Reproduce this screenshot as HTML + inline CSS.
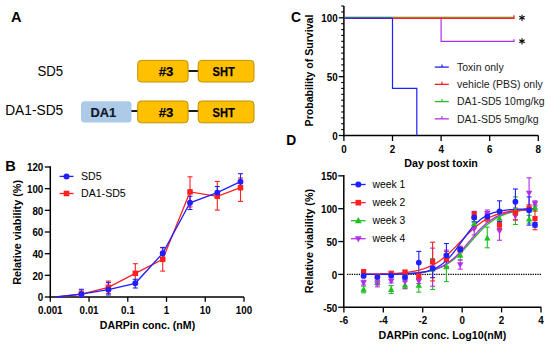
<!DOCTYPE html>
<html><head><meta charset="utf-8"><style>
html,body{margin:0;padding:0;background:#fff;}
body{width:550px;height:345px;position:relative;overflow:hidden;font-family:"Liberation Sans", sans-serif;}
</style></head><body>
<svg width="550" height="345" viewBox="0 0 550 345" style="position:absolute;left:0;top:0">
<g font-family='"Liberation Sans", sans-serif'>
<text x="11.00" y="21.80" font-size="14.6" font-weight="bold" text-anchor="start" fill="#000" >A</text>
<text x="63.20" y="76.30" font-size="14.3" font-weight="normal" text-anchor="end" fill="#000" textLength="25.6" lengthAdjust="spacingAndGlyphs">SD5</text>
<text x="63.20" y="115.20" font-size="14.3" font-weight="normal" text-anchor="end" fill="#000" textLength="58" lengthAdjust="spacingAndGlyphs">DA1-SD5</text>
<line x1="187.00" y1="71.00" x2="199.00" y2="71.00" stroke="#000" stroke-width="1.8" />
<rect x="137.7" y="60.4" width="50.4" height="21.6" rx="3.5" ry="3.5" fill="#ffc000" stroke="#c09000" stroke-width="1"/>
<rect x="198.2" y="60.4" width="55.8" height="21.6" rx="3.5" ry="3.5" fill="#ffc000" stroke="#c09000" stroke-width="1"/>
<text x="166.00" y="76.10" font-size="13.6" font-weight="bold" text-anchor="middle" fill="#000" textLength="14.6" lengthAdjust="spacingAndGlyphs" stroke="#000" stroke-width="0.25">#3</text>
<text x="223.70" y="76.10" font-size="13.0" font-weight="bold" text-anchor="middle" fill="#000" textLength="22.2" lengthAdjust="spacingAndGlyphs" stroke="#000" stroke-width="0.25">SHT</text>
<line x1="130.00" y1="111.00" x2="139.00" y2="111.00" stroke="#000" stroke-width="1.8" />
<line x1="187.00" y1="111.00" x2="199.00" y2="111.00" stroke="#000" stroke-width="1.8" />
<rect x="81.0" y="101.2" width="50.5" height="21.2" rx="3.5" ry="3.5" fill="#adcbe8"/>
<rect x="137.7" y="101.0" width="50.4" height="21.8" rx="3.5" ry="3.5" fill="#ffc000" stroke="#c09000" stroke-width="1"/>
<rect x="198.2" y="101.0" width="55.8" height="21.8" rx="3.5" ry="3.5" fill="#ffc000" stroke="#c09000" stroke-width="1"/>
<text x="103.30" y="116.80" font-size="12.8" font-weight="bold" text-anchor="middle" fill="#111827" stroke="#111827" stroke-width="0.2">DA1</text>
<text x="166.00" y="116.70" font-size="13.6" font-weight="bold" text-anchor="middle" fill="#000" textLength="14.6" lengthAdjust="spacingAndGlyphs" stroke="#000" stroke-width="0.25">#3</text>
<text x="223.70" y="116.70" font-size="13.0" font-weight="bold" text-anchor="middle" fill="#000" textLength="22.2" lengthAdjust="spacingAndGlyphs" stroke="#000" stroke-width="0.25">SHT</text>
<text x="5.30" y="170.60" font-size="14.6" font-weight="bold" text-anchor="start" fill="#000" >B</text>
<line x1="50.30" y1="166.20" x2="50.30" y2="297.75" stroke="#000" stroke-width="1.5" />
<line x1="49.55" y1="297.00" x2="244.00" y2="297.00" stroke="#000" stroke-width="1.5" />
<line x1="44.80" y1="297.00" x2="50.30" y2="297.00" stroke="#000" stroke-width="1.3" />
<text transform="translate(43.30,301.40) scale(0.98,1)" font-size="10.0" font-weight="bold" text-anchor="end" fill="#000">0</text>
<line x1="44.80" y1="275.33" x2="50.30" y2="275.33" stroke="#000" stroke-width="1.3" />
<text transform="translate(43.30,279.73) scale(0.98,1)" font-size="10.0" font-weight="bold" text-anchor="end" fill="#000">20</text>
<line x1="44.80" y1="253.67" x2="50.30" y2="253.67" stroke="#000" stroke-width="1.3" />
<text transform="translate(43.30,258.07) scale(0.98,1)" font-size="10.0" font-weight="bold" text-anchor="end" fill="#000">40</text>
<line x1="44.80" y1="232.00" x2="50.30" y2="232.00" stroke="#000" stroke-width="1.3" />
<text transform="translate(43.30,236.40) scale(0.98,1)" font-size="10.0" font-weight="bold" text-anchor="end" fill="#000">60</text>
<line x1="44.80" y1="210.34" x2="50.30" y2="210.34" stroke="#000" stroke-width="1.3" />
<text transform="translate(43.30,214.74) scale(0.98,1)" font-size="10.0" font-weight="bold" text-anchor="end" fill="#000">80</text>
<line x1="44.80" y1="188.67" x2="50.30" y2="188.67" stroke="#000" stroke-width="1.3" />
<text transform="translate(43.30,193.07) scale(0.98,1)" font-size="10.0" font-weight="bold" text-anchor="end" fill="#000">100</text>
<line x1="44.80" y1="167.00" x2="50.30" y2="167.00" stroke="#000" stroke-width="1.3" />
<text transform="translate(43.30,171.40) scale(0.98,1)" font-size="10.0" font-weight="bold" text-anchor="end" fill="#000">120</text>
<line x1="50.30" y1="297.00" x2="50.30" y2="301.80" stroke="#000" stroke-width="1.3" />
<text transform="translate(50.30,313.70) scale(0.98,1)" font-size="10.0" font-weight="bold" text-anchor="middle" fill="#000">0.001</text>
<line x1="89.04" y1="297.00" x2="89.04" y2="301.80" stroke="#000" stroke-width="1.3" />
<text transform="translate(89.04,313.70) scale(0.98,1)" font-size="10.0" font-weight="bold" text-anchor="middle" fill="#000">0.01</text>
<line x1="127.78" y1="297.00" x2="127.78" y2="301.80" stroke="#000" stroke-width="1.3" />
<text transform="translate(127.78,313.70) scale(0.98,1)" font-size="10.0" font-weight="bold" text-anchor="middle" fill="#000">0.1</text>
<line x1="166.52" y1="297.00" x2="166.52" y2="301.80" stroke="#000" stroke-width="1.3" />
<text transform="translate(166.52,313.70) scale(0.98,1)" font-size="10.0" font-weight="bold" text-anchor="middle" fill="#000">1</text>
<line x1="205.26" y1="297.00" x2="205.26" y2="301.80" stroke="#000" stroke-width="1.3" />
<text transform="translate(205.26,313.70) scale(0.98,1)" font-size="10.0" font-weight="bold" text-anchor="middle" fill="#000">10</text>
<line x1="244.00" y1="297.00" x2="244.00" y2="301.80" stroke="#000" stroke-width="1.3" />
<text transform="translate(244.00,313.70) scale(0.98,1)" font-size="10.0" font-weight="bold" text-anchor="middle" fill="#000">100</text>
<text x="147.50" y="329.10" font-size="10.6" font-weight="bold" text-anchor="middle" fill="#000" >DARPin conc. (nM)</text>
<text transform="translate(20.6,232.4) rotate(-90)" font-size="10.85" font-weight="bold" text-anchor="middle">Relative viability (%)</text>
<line x1="81.40" y1="291.00" x2="81.40" y2="297.00" stroke="#ff2020" stroke-width="1.1" />
<line x1="78.90" y1="291.00" x2="83.90" y2="291.00" stroke="#ff2020" stroke-width="1.1" />
<line x1="78.90" y1="297.00" x2="83.90" y2="297.00" stroke="#ff2020" stroke-width="1.1" />
<line x1="108.40" y1="281.10" x2="108.40" y2="293.50" stroke="#ff2020" stroke-width="1.1" />
<line x1="105.90" y1="281.10" x2="110.90" y2="281.10" stroke="#ff2020" stroke-width="1.1" />
<line x1="105.90" y1="293.50" x2="110.90" y2="293.50" stroke="#ff2020" stroke-width="1.1" />
<line x1="135.30" y1="263.70" x2="135.30" y2="283.00" stroke="#ff2020" stroke-width="1.1" />
<line x1="132.80" y1="263.70" x2="137.80" y2="263.70" stroke="#ff2020" stroke-width="1.1" />
<line x1="132.80" y1="283.00" x2="137.80" y2="283.00" stroke="#ff2020" stroke-width="1.1" />
<line x1="162.70" y1="247.80" x2="162.70" y2="271.10" stroke="#ff2020" stroke-width="1.1" />
<line x1="160.20" y1="247.80" x2="165.20" y2="247.80" stroke="#ff2020" stroke-width="1.1" />
<line x1="160.20" y1="271.10" x2="165.20" y2="271.10" stroke="#ff2020" stroke-width="1.1" />
<line x1="190.00" y1="176.80" x2="190.00" y2="207.00" stroke="#ff2020" stroke-width="1.1" />
<line x1="187.50" y1="176.80" x2="192.50" y2="176.80" stroke="#ff2020" stroke-width="1.1" />
<line x1="187.50" y1="207.00" x2="192.50" y2="207.00" stroke="#ff2020" stroke-width="1.1" />
<line x1="217.30" y1="181.40" x2="217.30" y2="210.10" stroke="#ff2020" stroke-width="1.1" />
<line x1="214.80" y1="181.40" x2="219.80" y2="181.40" stroke="#ff2020" stroke-width="1.1" />
<line x1="214.80" y1="210.10" x2="219.80" y2="210.10" stroke="#ff2020" stroke-width="1.1" />
<line x1="240.50" y1="178.00" x2="240.50" y2="201.40" stroke="#ff2020" stroke-width="1.1" />
<line x1="238.00" y1="178.00" x2="243.00" y2="178.00" stroke="#ff2020" stroke-width="1.1" />
<line x1="238.00" y1="201.40" x2="243.00" y2="201.40" stroke="#ff2020" stroke-width="1.1" />
<line x1="81.40" y1="289.30" x2="81.40" y2="297.50" stroke="#1f1fff" stroke-width="1.1" />
<line x1="78.90" y1="289.30" x2="83.90" y2="289.30" stroke="#1f1fff" stroke-width="1.1" />
<line x1="78.90" y1="297.50" x2="83.90" y2="297.50" stroke="#1f1fff" stroke-width="1.1" />
<line x1="108.40" y1="282.60" x2="108.40" y2="295.00" stroke="#1f1fff" stroke-width="1.1" />
<line x1="105.90" y1="282.60" x2="110.90" y2="282.60" stroke="#1f1fff" stroke-width="1.1" />
<line x1="105.90" y1="295.00" x2="110.90" y2="295.00" stroke="#1f1fff" stroke-width="1.1" />
<line x1="135.30" y1="279.30" x2="135.30" y2="288.00" stroke="#1f1fff" stroke-width="1.1" />
<line x1="132.80" y1="279.30" x2="137.80" y2="279.30" stroke="#1f1fff" stroke-width="1.1" />
<line x1="132.80" y1="288.00" x2="137.80" y2="288.00" stroke="#1f1fff" stroke-width="1.1" />
<line x1="162.70" y1="247.40" x2="162.70" y2="258.70" stroke="#1f1fff" stroke-width="1.1" />
<line x1="160.20" y1="247.40" x2="165.20" y2="247.40" stroke="#1f1fff" stroke-width="1.1" />
<line x1="160.20" y1="258.70" x2="165.20" y2="258.70" stroke="#1f1fff" stroke-width="1.1" />
<line x1="190.00" y1="196.30" x2="190.00" y2="209.50" stroke="#1f1fff" stroke-width="1.1" />
<line x1="187.50" y1="196.30" x2="192.50" y2="196.30" stroke="#1f1fff" stroke-width="1.1" />
<line x1="187.50" y1="209.50" x2="192.50" y2="209.50" stroke="#1f1fff" stroke-width="1.1" />
<line x1="217.30" y1="186.50" x2="217.30" y2="197.70" stroke="#1f1fff" stroke-width="1.1" />
<line x1="214.80" y1="186.50" x2="219.80" y2="186.50" stroke="#1f1fff" stroke-width="1.1" />
<line x1="214.80" y1="197.70" x2="219.80" y2="197.70" stroke="#1f1fff" stroke-width="1.1" />
<line x1="240.50" y1="173.70" x2="240.50" y2="188.60" stroke="#1f1fff" stroke-width="1.1" />
<line x1="238.00" y1="173.70" x2="243.00" y2="173.70" stroke="#1f1fff" stroke-width="1.1" />
<line x1="238.00" y1="188.60" x2="243.00" y2="188.60" stroke="#1f1fff" stroke-width="1.1" />
<polyline points="56.00,297.00 81.40,294.10 108.40,287.30 135.30,273.30 162.70,259.30 190.00,191.90 217.30,196.30 240.50,187.70" fill="none" stroke="#ff2020" stroke-width="1.3"/>
<polyline points="56.00,297.00 81.40,294.10 108.40,289.70 135.30,283.30 162.70,253.30 190.00,202.80 217.30,192.60 240.50,181.70" fill="none" stroke="#1f1fff" stroke-width="1.3"/>
<rect x="78.65" y="291.35" width="5.5" height="5.5" fill="#ff2020"/>
<rect x="105.65" y="284.55" width="5.5" height="5.5" fill="#ff2020"/>
<rect x="132.55" y="270.55" width="5.5" height="5.5" fill="#ff2020"/>
<rect x="159.95" y="256.55" width="5.5" height="5.5" fill="#ff2020"/>
<rect x="187.25" y="189.15" width="5.5" height="5.5" fill="#ff2020"/>
<rect x="214.55" y="193.55" width="5.5" height="5.5" fill="#ff2020"/>
<rect x="237.75" y="184.95" width="5.5" height="5.5" fill="#ff2020"/>
<circle cx="81.40" cy="294.10" r="2.95" fill="#1f1fff"/>
<circle cx="108.40" cy="289.70" r="2.95" fill="#1f1fff"/>
<circle cx="135.30" cy="283.30" r="2.95" fill="#1f1fff"/>
<circle cx="162.70" cy="253.30" r="2.95" fill="#1f1fff"/>
<circle cx="190.00" cy="202.80" r="2.95" fill="#1f1fff"/>
<circle cx="217.30" cy="192.60" r="2.95" fill="#1f1fff"/>
<circle cx="240.50" cy="181.70" r="2.95" fill="#1f1fff"/>
<line x1="59.60" y1="176.40" x2="73.50" y2="176.40" stroke="#1f1fff" stroke-width="1.3" />
<circle cx="66.50" cy="176.40" r="3.0" fill="#1f1fff"/>
<text x="81.00" y="180.20" font-size="10.6" font-weight="normal" text-anchor="start" fill="#000" >SD5</text>
<line x1="59.60" y1="193.50" x2="73.50" y2="193.50" stroke="#ff2020" stroke-width="1.3" />
<rect x="63.70" y="190.70" width="5.6" height="5.6" fill="#ff2020"/>
<text x="81.00" y="197.30" font-size="10.6" font-weight="normal" text-anchor="start" fill="#000" >DA1-SD5</text>
<text x="291.00" y="21.80" font-size="13.8" font-weight="bold" text-anchor="start" fill="#000" >C</text>
<line x1="343.90" y1="6.00" x2="343.90" y2="136.25" stroke="#000" stroke-width="1.5" />
<line x1="343.15" y1="135.50" x2="538.40" y2="135.50" stroke="#000" stroke-width="1.5" />
<line x1="338.80" y1="135.50" x2="343.90" y2="135.50" stroke="#000" stroke-width="1.3" />
<text transform="translate(337.60,139.90) scale(0.98,1)" font-size="10.0" font-weight="bold" text-anchor="end" fill="#000">0</text>
<line x1="341.20" y1="129.62" x2="343.90" y2="129.62" stroke="#000" stroke-width="1.1" />
<line x1="341.20" y1="123.73" x2="343.90" y2="123.73" stroke="#000" stroke-width="1.1" />
<line x1="341.20" y1="117.84" x2="343.90" y2="117.84" stroke="#000" stroke-width="1.1" />
<line x1="341.20" y1="111.96" x2="343.90" y2="111.96" stroke="#000" stroke-width="1.1" />
<line x1="341.20" y1="106.08" x2="343.90" y2="106.08" stroke="#000" stroke-width="1.1" />
<line x1="341.20" y1="100.19" x2="343.90" y2="100.19" stroke="#000" stroke-width="1.1" />
<line x1="341.20" y1="94.31" x2="343.90" y2="94.31" stroke="#000" stroke-width="1.1" />
<line x1="341.20" y1="88.42" x2="343.90" y2="88.42" stroke="#000" stroke-width="1.1" />
<line x1="341.20" y1="82.53" x2="343.90" y2="82.53" stroke="#000" stroke-width="1.1" />
<line x1="338.80" y1="76.65" x2="343.90" y2="76.65" stroke="#000" stroke-width="1.3" />
<text transform="translate(337.60,81.05) scale(0.98,1)" font-size="10.0" font-weight="bold" text-anchor="end" fill="#000">50</text>
<line x1="341.20" y1="70.77" x2="343.90" y2="70.77" stroke="#000" stroke-width="1.1" />
<line x1="341.20" y1="64.88" x2="343.90" y2="64.88" stroke="#000" stroke-width="1.1" />
<line x1="341.20" y1="58.99" x2="343.90" y2="58.99" stroke="#000" stroke-width="1.1" />
<line x1="341.20" y1="53.11" x2="343.90" y2="53.11" stroke="#000" stroke-width="1.1" />
<line x1="341.20" y1="47.22" x2="343.90" y2="47.22" stroke="#000" stroke-width="1.1" />
<line x1="341.20" y1="41.34" x2="343.90" y2="41.34" stroke="#000" stroke-width="1.1" />
<line x1="341.20" y1="35.45" x2="343.90" y2="35.45" stroke="#000" stroke-width="1.1" />
<line x1="341.20" y1="29.57" x2="343.90" y2="29.57" stroke="#000" stroke-width="1.1" />
<line x1="341.20" y1="23.69" x2="343.90" y2="23.69" stroke="#000" stroke-width="1.1" />
<line x1="338.80" y1="17.80" x2="343.90" y2="17.80" stroke="#000" stroke-width="1.3" />
<text transform="translate(337.60,22.20) scale(0.98,1)" font-size="10.0" font-weight="bold" text-anchor="end" fill="#000">100</text>
<line x1="341.20" y1="11.91" x2="343.90" y2="11.91" stroke="#000" stroke-width="1.1" />
<line x1="341.20" y1="6.03" x2="343.90" y2="6.03" stroke="#000" stroke-width="1.1" />
<line x1="343.90" y1="135.50" x2="343.90" y2="141.00" stroke="#000" stroke-width="1.3" />
<text transform="translate(343.90,153.20) scale(0.98,1)" font-size="10.0" font-weight="bold" text-anchor="middle" fill="#000">0</text>
<line x1="392.50" y1="135.50" x2="392.50" y2="141.00" stroke="#000" stroke-width="1.3" />
<text transform="translate(392.50,153.20) scale(0.98,1)" font-size="10.0" font-weight="bold" text-anchor="middle" fill="#000">2</text>
<line x1="441.10" y1="135.50" x2="441.10" y2="141.00" stroke="#000" stroke-width="1.3" />
<text transform="translate(441.10,153.20) scale(0.98,1)" font-size="10.0" font-weight="bold" text-anchor="middle" fill="#000">4</text>
<line x1="489.70" y1="135.50" x2="489.70" y2="141.00" stroke="#000" stroke-width="1.3" />
<text transform="translate(489.70,153.20) scale(0.98,1)" font-size="10.0" font-weight="bold" text-anchor="middle" fill="#000">6</text>
<line x1="538.30" y1="135.50" x2="538.30" y2="141.00" stroke="#000" stroke-width="1.3" />
<text transform="translate(538.30,153.20) scale(0.98,1)" font-size="10.0" font-weight="bold" text-anchor="middle" fill="#000">8</text>
<text x="441.10" y="167.40" font-size="10.7" font-weight="bold" text-anchor="middle" fill="#000" >Day post toxin</text>
<text transform="translate(312.7,70.5) rotate(-90)" font-size="10.6" font-weight="bold" text-anchor="middle">Probability of Survival</text>
<polyline points="441.10,17.80 441.10,41.34 514.00,41.34 514.00,39.14" fill="none" stroke="#b030e8" stroke-width="1.2"/>
<polyline points="343.90,18.25 514.00,18.25 514.00,15.20" fill="none" stroke="#ff2020" stroke-width="1.3"/>
<polyline points="343.90,18.25 392.50,18.25 392.50,88.42 416.80,88.42 416.80,135.50" fill="none" stroke="#1f1fff" stroke-width="1.2"/>
<polyline points="343.90,17.25 392.50,17.25" fill="none" stroke="#0a7070" stroke-width="1.1"/>
<polyline points="392.50,17.25 514.00,17.25" fill="none" stroke="#8a7010" stroke-width="1.1"/>
<line x1="522.00" y1="14.70" x2="522.00" y2="20.90" stroke="#000" stroke-width="1.1" />
<line x1="519.32" y1="16.25" x2="524.68" y2="19.35" stroke="#000" stroke-width="1.1" />
<line x1="519.32" y1="19.35" x2="524.68" y2="16.25" stroke="#000" stroke-width="1.1" />
<line x1="522.00" y1="38.20" x2="522.00" y2="44.40" stroke="#000" stroke-width="1.1" />
<line x1="519.32" y1="39.75" x2="524.68" y2="42.85" stroke="#000" stroke-width="1.1" />
<line x1="519.32" y1="42.85" x2="524.68" y2="39.75" stroke="#000" stroke-width="1.1" />
<line x1="434.80" y1="67.10" x2="448.80" y2="67.10" stroke="#1f1fff" stroke-width="1.3" />
<line x1="442.00" y1="67.10" x2="442.00" y2="64.60" stroke="#1f1fff" stroke-width="1.2" />
<text x="457.00" y="70.90" font-size="10.5" font-weight="normal" text-anchor="start" fill="#1a1a1a" >Toxin only</text>
<line x1="434.80" y1="84.35" x2="448.80" y2="84.35" stroke="#ff2020" stroke-width="1.3" />
<line x1="442.00" y1="84.35" x2="442.00" y2="81.85" stroke="#ff2020" stroke-width="1.2" />
<text x="457.00" y="88.15" font-size="10.5" font-weight="normal" text-anchor="start" fill="#1a1a1a" >vehicle (PBS) only</text>
<line x1="434.80" y1="101.60" x2="448.80" y2="101.60" stroke="#20c020" stroke-width="1.3" />
<line x1="442.00" y1="101.60" x2="442.00" y2="99.10" stroke="#20c020" stroke-width="1.2" />
<text x="457.00" y="105.40" font-size="10.5" font-weight="normal" text-anchor="start" fill="#1a1a1a" >DA1-SD5 10mg/kg</text>
<line x1="434.80" y1="118.85" x2="448.80" y2="118.85" stroke="#b030e8" stroke-width="1.3" />
<line x1="442.00" y1="118.85" x2="442.00" y2="116.35" stroke="#b030e8" stroke-width="1.2" />
<text x="457.00" y="122.65" font-size="10.5" font-weight="normal" text-anchor="start" fill="#1a1a1a" >DA1-SD5 5mg/kg</text>
<text x="286.20" y="145.30" font-size="13.8" font-weight="bold" text-anchor="start" fill="#000" >D</text>
<line x1="343.80" y1="175.00" x2="343.80" y2="307.95" stroke="#000" stroke-width="1.5" />
<line x1="343.05" y1="307.20" x2="541.30" y2="307.20" stroke="#000" stroke-width="1.5" />
<line x1="338.20" y1="307.25" x2="343.80" y2="307.25" stroke="#000" stroke-width="1.3" />
<text transform="translate(337.30,311.65) scale(0.98,1)" font-size="10.0" font-weight="bold" text-anchor="end" fill="#000">-50</text>
<line x1="338.20" y1="274.40" x2="343.80" y2="274.40" stroke="#000" stroke-width="1.3" />
<text transform="translate(337.30,278.80) scale(0.98,1)" font-size="10.0" font-weight="bold" text-anchor="end" fill="#000">0</text>
<line x1="338.20" y1="241.55" x2="343.80" y2="241.55" stroke="#000" stroke-width="1.3" />
<text transform="translate(337.30,245.95) scale(0.98,1)" font-size="10.0" font-weight="bold" text-anchor="end" fill="#000">50</text>
<line x1="338.20" y1="208.70" x2="343.80" y2="208.70" stroke="#000" stroke-width="1.3" />
<text transform="translate(337.30,213.10) scale(0.98,1)" font-size="10.0" font-weight="bold" text-anchor="end" fill="#000">100</text>
<line x1="338.20" y1="175.85" x2="343.80" y2="175.85" stroke="#000" stroke-width="1.3" />
<text transform="translate(337.30,180.25) scale(0.98,1)" font-size="10.0" font-weight="bold" text-anchor="end" fill="#000">150</text>
<line x1="343.90" y1="307.20" x2="343.90" y2="312.40" stroke="#000" stroke-width="1.3" />
<text transform="translate(343.90,324.40) scale(0.98,1)" font-size="10.0" font-weight="bold" text-anchor="middle" fill="#000">-6</text>
<line x1="383.32" y1="307.20" x2="383.32" y2="312.40" stroke="#000" stroke-width="1.3" />
<text transform="translate(383.32,324.40) scale(0.98,1)" font-size="10.0" font-weight="bold" text-anchor="middle" fill="#000">-4</text>
<line x1="422.74" y1="307.20" x2="422.74" y2="312.40" stroke="#000" stroke-width="1.3" />
<text transform="translate(422.74,324.40) scale(0.98,1)" font-size="10.0" font-weight="bold" text-anchor="middle" fill="#000">-2</text>
<line x1="462.16" y1="307.20" x2="462.16" y2="312.40" stroke="#000" stroke-width="1.3" />
<text transform="translate(462.16,324.40) scale(0.98,1)" font-size="10.0" font-weight="bold" text-anchor="middle" fill="#000">0</text>
<line x1="501.58" y1="307.20" x2="501.58" y2="312.40" stroke="#000" stroke-width="1.3" />
<text transform="translate(501.58,324.40) scale(0.98,1)" font-size="10.0" font-weight="bold" text-anchor="middle" fill="#000">2</text>
<line x1="541.00" y1="307.20" x2="541.00" y2="312.40" stroke="#000" stroke-width="1.3" />
<text transform="translate(541.00,324.40) scale(0.98,1)" font-size="10.0" font-weight="bold" text-anchor="middle" fill="#000">4</text>
<text x="442.40" y="338.80" font-size="10.7" font-weight="bold" text-anchor="middle" fill="#000" >DARPin conc. Log10(nM)</text>
<text transform="translate(312.5,241.1) rotate(-90)" font-size="10.8" font-weight="bold" text-anchor="middle">Relative viability (%)</text>
<line x1="347.00" y1="274.40" x2="541.00" y2="274.40" stroke="#000" stroke-width="1.3" stroke-dasharray="1.3 1.05"/>
<line x1="363.60" y1="286.23" x2="363.60" y2="292.80" stroke="#20c020" stroke-width="1.1" />
<line x1="361.10" y1="286.23" x2="366.10" y2="286.23" stroke="#20c020" stroke-width="1.1" />
<line x1="361.10" y1="292.80" x2="366.10" y2="292.80" stroke="#20c020" stroke-width="1.1" />
<line x1="377.40" y1="280.31" x2="377.40" y2="284.91" stroke="#20c020" stroke-width="1.1" />
<line x1="374.90" y1="280.31" x2="379.90" y2="280.31" stroke="#20c020" stroke-width="1.1" />
<line x1="374.90" y1="284.91" x2="379.90" y2="284.91" stroke="#20c020" stroke-width="1.1" />
<line x1="391.20" y1="285.57" x2="391.20" y2="293.45" stroke="#20c020" stroke-width="1.1" />
<line x1="388.70" y1="285.57" x2="393.70" y2="285.57" stroke="#20c020" stroke-width="1.1" />
<line x1="388.70" y1="293.45" x2="393.70" y2="293.45" stroke="#20c020" stroke-width="1.1" />
<line x1="405.00" y1="281.63" x2="405.00" y2="288.85" stroke="#20c020" stroke-width="1.1" />
<line x1="402.50" y1="281.63" x2="407.50" y2="281.63" stroke="#20c020" stroke-width="1.1" />
<line x1="402.50" y1="288.85" x2="407.50" y2="288.85" stroke="#20c020" stroke-width="1.1" />
<line x1="418.80" y1="279.66" x2="418.80" y2="292.14" stroke="#20c020" stroke-width="1.1" />
<line x1="416.30" y1="279.66" x2="421.30" y2="279.66" stroke="#20c020" stroke-width="1.1" />
<line x1="416.30" y1="292.14" x2="421.30" y2="292.14" stroke="#20c020" stroke-width="1.1" />
<line x1="432.60" y1="258.63" x2="432.60" y2="289.51" stroke="#20c020" stroke-width="1.1" />
<line x1="430.10" y1="258.63" x2="435.10" y2="258.63" stroke="#20c020" stroke-width="1.1" />
<line x1="430.10" y1="289.51" x2="435.10" y2="289.51" stroke="#20c020" stroke-width="1.1" />
<line x1="446.40" y1="261.26" x2="446.40" y2="281.63" stroke="#20c020" stroke-width="1.1" />
<line x1="443.90" y1="261.26" x2="448.90" y2="261.26" stroke="#20c020" stroke-width="1.1" />
<line x1="443.90" y1="281.63" x2="448.90" y2="281.63" stroke="#20c020" stroke-width="1.1" />
<line x1="460.20" y1="250.75" x2="460.20" y2="259.95" stroke="#20c020" stroke-width="1.1" />
<line x1="457.70" y1="250.75" x2="462.70" y2="250.75" stroke="#20c020" stroke-width="1.1" />
<line x1="457.70" y1="259.95" x2="462.70" y2="259.95" stroke="#20c020" stroke-width="1.1" />
<line x1="474.20" y1="219.21" x2="474.20" y2="227.10" stroke="#20c020" stroke-width="1.1" />
<line x1="471.70" y1="219.21" x2="476.70" y2="219.21" stroke="#20c020" stroke-width="1.1" />
<line x1="471.70" y1="227.10" x2="476.70" y2="227.10" stroke="#20c020" stroke-width="1.1" />
<line x1="487.30" y1="227.10" x2="487.30" y2="247.79" stroke="#20c020" stroke-width="1.1" />
<line x1="484.80" y1="227.10" x2="489.80" y2="227.10" stroke="#20c020" stroke-width="1.1" />
<line x1="484.80" y1="247.79" x2="489.80" y2="247.79" stroke="#20c020" stroke-width="1.1" />
<line x1="499.50" y1="213.96" x2="499.50" y2="223.15" stroke="#20c020" stroke-width="1.1" />
<line x1="497.00" y1="213.96" x2="502.00" y2="213.96" stroke="#20c020" stroke-width="1.1" />
<line x1="497.00" y1="223.15" x2="502.00" y2="223.15" stroke="#20c020" stroke-width="1.1" />
<line x1="515.40" y1="196.87" x2="515.40" y2="224.47" stroke="#20c020" stroke-width="1.1" />
<line x1="512.90" y1="196.87" x2="517.90" y2="196.87" stroke="#20c020" stroke-width="1.1" />
<line x1="512.90" y1="224.47" x2="517.90" y2="224.47" stroke="#20c020" stroke-width="1.1" />
<line x1="529.10" y1="215.27" x2="529.10" y2="223.15" stroke="#20c020" stroke-width="1.1" />
<line x1="526.60" y1="215.27" x2="531.60" y2="215.27" stroke="#20c020" stroke-width="1.1" />
<line x1="526.60" y1="223.15" x2="531.60" y2="223.15" stroke="#20c020" stroke-width="1.1" />
<line x1="535.00" y1="204.76" x2="535.00" y2="211.33" stroke="#20c020" stroke-width="1.1" />
<line x1="532.50" y1="204.76" x2="537.50" y2="204.76" stroke="#20c020" stroke-width="1.1" />
<line x1="532.50" y1="211.33" x2="537.50" y2="211.33" stroke="#20c020" stroke-width="1.1" />
<line x1="363.60" y1="280.31" x2="363.60" y2="284.91" stroke="#b030e8" stroke-width="1.1" />
<line x1="361.10" y1="280.31" x2="366.10" y2="280.31" stroke="#b030e8" stroke-width="1.1" />
<line x1="361.10" y1="284.91" x2="366.10" y2="284.91" stroke="#b030e8" stroke-width="1.1" />
<line x1="377.40" y1="280.31" x2="377.40" y2="286.88" stroke="#b030e8" stroke-width="1.1" />
<line x1="374.90" y1="280.31" x2="379.90" y2="280.31" stroke="#b030e8" stroke-width="1.1" />
<line x1="374.90" y1="286.88" x2="379.90" y2="286.88" stroke="#b030e8" stroke-width="1.1" />
<line x1="391.20" y1="279.00" x2="391.20" y2="282.94" stroke="#b030e8" stroke-width="1.1" />
<line x1="388.70" y1="279.00" x2="393.70" y2="279.00" stroke="#b030e8" stroke-width="1.1" />
<line x1="388.70" y1="282.94" x2="393.70" y2="282.94" stroke="#b030e8" stroke-width="1.1" />
<line x1="405.00" y1="277.69" x2="405.00" y2="288.20" stroke="#b030e8" stroke-width="1.1" />
<line x1="402.50" y1="277.69" x2="407.50" y2="277.69" stroke="#b030e8" stroke-width="1.1" />
<line x1="402.50" y1="288.20" x2="407.50" y2="288.20" stroke="#b030e8" stroke-width="1.1" />
<line x1="418.80" y1="278.34" x2="418.80" y2="283.60" stroke="#b030e8" stroke-width="1.1" />
<line x1="416.30" y1="278.34" x2="421.30" y2="278.34" stroke="#b030e8" stroke-width="1.1" />
<line x1="416.30" y1="283.60" x2="421.30" y2="283.60" stroke="#b030e8" stroke-width="1.1" />
<line x1="432.60" y1="248.12" x2="432.60" y2="286.23" stroke="#b030e8" stroke-width="1.1" />
<line x1="430.10" y1="248.12" x2="435.10" y2="248.12" stroke="#b030e8" stroke-width="1.1" />
<line x1="430.10" y1="286.23" x2="435.10" y2="286.23" stroke="#b030e8" stroke-width="1.1" />
<line x1="446.40" y1="250.09" x2="446.40" y2="261.26" stroke="#b030e8" stroke-width="1.1" />
<line x1="443.90" y1="250.09" x2="448.90" y2="250.09" stroke="#b030e8" stroke-width="1.1" />
<line x1="443.90" y1="261.26" x2="448.90" y2="261.26" stroke="#b030e8" stroke-width="1.1" />
<line x1="460.20" y1="259.95" x2="460.20" y2="269.14" stroke="#b030e8" stroke-width="1.1" />
<line x1="457.70" y1="259.95" x2="462.70" y2="259.95" stroke="#b030e8" stroke-width="1.1" />
<line x1="457.70" y1="269.14" x2="462.70" y2="269.14" stroke="#b030e8" stroke-width="1.1" />
<line x1="474.20" y1="221.84" x2="474.20" y2="234.98" stroke="#b030e8" stroke-width="1.1" />
<line x1="471.70" y1="221.84" x2="476.70" y2="221.84" stroke="#b030e8" stroke-width="1.1" />
<line x1="471.70" y1="234.98" x2="476.70" y2="234.98" stroke="#b030e8" stroke-width="1.1" />
<line x1="487.30" y1="210.01" x2="487.30" y2="216.58" stroke="#b030e8" stroke-width="1.1" />
<line x1="484.80" y1="210.01" x2="489.80" y2="210.01" stroke="#b030e8" stroke-width="1.1" />
<line x1="484.80" y1="216.58" x2="489.80" y2="216.58" stroke="#b030e8" stroke-width="1.1" />
<line x1="499.50" y1="221.84" x2="499.50" y2="240.24" stroke="#b030e8" stroke-width="1.1" />
<line x1="497.00" y1="221.84" x2="502.00" y2="221.84" stroke="#b030e8" stroke-width="1.1" />
<line x1="497.00" y1="240.24" x2="502.00" y2="240.24" stroke="#b030e8" stroke-width="1.1" />
<line x1="515.40" y1="211.98" x2="515.40" y2="219.87" stroke="#b030e8" stroke-width="1.1" />
<line x1="512.90" y1="211.98" x2="517.90" y2="211.98" stroke="#b030e8" stroke-width="1.1" />
<line x1="512.90" y1="219.87" x2="517.90" y2="219.87" stroke="#b030e8" stroke-width="1.1" />
<line x1="529.10" y1="177.82" x2="529.10" y2="208.04" stroke="#b030e8" stroke-width="1.1" />
<line x1="526.60" y1="177.82" x2="531.60" y2="177.82" stroke="#b030e8" stroke-width="1.1" />
<line x1="526.60" y1="208.04" x2="531.60" y2="208.04" stroke="#b030e8" stroke-width="1.1" />
<line x1="535.00" y1="200.82" x2="535.00" y2="206.07" stroke="#b030e8" stroke-width="1.1" />
<line x1="532.50" y1="200.82" x2="537.50" y2="200.82" stroke="#b030e8" stroke-width="1.1" />
<line x1="532.50" y1="206.07" x2="537.50" y2="206.07" stroke="#b030e8" stroke-width="1.1" />
<line x1="363.60" y1="269.80" x2="363.60" y2="273.74" stroke="#ff2020" stroke-width="1.1" />
<line x1="361.10" y1="269.80" x2="366.10" y2="269.80" stroke="#ff2020" stroke-width="1.1" />
<line x1="361.10" y1="273.74" x2="366.10" y2="273.74" stroke="#ff2020" stroke-width="1.1" />
<line x1="377.40" y1="275.06" x2="377.40" y2="278.34" stroke="#ff2020" stroke-width="1.1" />
<line x1="374.90" y1="275.06" x2="379.90" y2="275.06" stroke="#ff2020" stroke-width="1.1" />
<line x1="374.90" y1="278.34" x2="379.90" y2="278.34" stroke="#ff2020" stroke-width="1.1" />
<line x1="391.20" y1="271.77" x2="391.20" y2="275.06" stroke="#ff2020" stroke-width="1.1" />
<line x1="388.70" y1="271.77" x2="393.70" y2="271.77" stroke="#ff2020" stroke-width="1.1" />
<line x1="388.70" y1="275.06" x2="393.70" y2="275.06" stroke="#ff2020" stroke-width="1.1" />
<line x1="405.00" y1="270.46" x2="405.00" y2="273.74" stroke="#ff2020" stroke-width="1.1" />
<line x1="402.50" y1="270.46" x2="407.50" y2="270.46" stroke="#ff2020" stroke-width="1.1" />
<line x1="402.50" y1="273.74" x2="407.50" y2="273.74" stroke="#ff2020" stroke-width="1.1" />
<line x1="418.80" y1="273.09" x2="418.80" y2="278.34" stroke="#ff2020" stroke-width="1.1" />
<line x1="416.30" y1="273.09" x2="421.30" y2="273.09" stroke="#ff2020" stroke-width="1.1" />
<line x1="416.30" y1="278.34" x2="421.30" y2="278.34" stroke="#ff2020" stroke-width="1.1" />
<line x1="432.60" y1="242.21" x2="432.60" y2="280.97" stroke="#ff2020" stroke-width="1.1" />
<line x1="430.10" y1="242.21" x2="435.10" y2="242.21" stroke="#ff2020" stroke-width="1.1" />
<line x1="430.10" y1="280.97" x2="435.10" y2="280.97" stroke="#ff2020" stroke-width="1.1" />
<line x1="446.40" y1="251.40" x2="446.40" y2="266.52" stroke="#ff2020" stroke-width="1.1" />
<line x1="443.90" y1="251.40" x2="448.90" y2="251.40" stroke="#ff2020" stroke-width="1.1" />
<line x1="443.90" y1="266.52" x2="448.90" y2="266.52" stroke="#ff2020" stroke-width="1.1" />
<line x1="460.20" y1="246.15" x2="460.20" y2="252.72" stroke="#ff2020" stroke-width="1.1" />
<line x1="457.70" y1="246.15" x2="462.70" y2="246.15" stroke="#ff2020" stroke-width="1.1" />
<line x1="457.70" y1="252.72" x2="462.70" y2="252.72" stroke="#ff2020" stroke-width="1.1" />
<line x1="474.20" y1="211.33" x2="474.20" y2="217.24" stroke="#ff2020" stroke-width="1.1" />
<line x1="471.70" y1="211.33" x2="476.70" y2="211.33" stroke="#ff2020" stroke-width="1.1" />
<line x1="471.70" y1="217.24" x2="476.70" y2="217.24" stroke="#ff2020" stroke-width="1.1" />
<line x1="487.30" y1="213.96" x2="487.30" y2="221.84" stroke="#ff2020" stroke-width="1.1" />
<line x1="484.80" y1="213.96" x2="489.80" y2="213.96" stroke="#ff2020" stroke-width="1.1" />
<line x1="484.80" y1="221.84" x2="489.80" y2="221.84" stroke="#ff2020" stroke-width="1.1" />
<line x1="499.50" y1="221.84" x2="499.50" y2="228.41" stroke="#ff2020" stroke-width="1.1" />
<line x1="497.00" y1="221.84" x2="502.00" y2="221.84" stroke="#ff2020" stroke-width="1.1" />
<line x1="497.00" y1="228.41" x2="502.00" y2="228.41" stroke="#ff2020" stroke-width="1.1" />
<line x1="515.40" y1="208.04" x2="515.40" y2="219.87" stroke="#ff2020" stroke-width="1.1" />
<line x1="512.90" y1="208.04" x2="517.90" y2="208.04" stroke="#ff2020" stroke-width="1.1" />
<line x1="512.90" y1="219.87" x2="517.90" y2="219.87" stroke="#ff2020" stroke-width="1.1" />
<line x1="529.10" y1="204.76" x2="529.10" y2="211.98" stroke="#ff2020" stroke-width="1.1" />
<line x1="526.60" y1="204.76" x2="531.60" y2="204.76" stroke="#ff2020" stroke-width="1.1" />
<line x1="526.60" y1="211.98" x2="531.60" y2="211.98" stroke="#ff2020" stroke-width="1.1" />
<line x1="535.00" y1="210.01" x2="535.00" y2="229.72" stroke="#ff2020" stroke-width="1.1" />
<line x1="532.50" y1="210.01" x2="537.50" y2="210.01" stroke="#ff2020" stroke-width="1.1" />
<line x1="532.50" y1="229.72" x2="537.50" y2="229.72" stroke="#ff2020" stroke-width="1.1" />
<line x1="363.60" y1="274.40" x2="363.60" y2="277.03" stroke="#1f1fff" stroke-width="1.1" />
<line x1="361.10" y1="274.40" x2="366.10" y2="274.40" stroke="#1f1fff" stroke-width="1.1" />
<line x1="361.10" y1="277.03" x2="366.10" y2="277.03" stroke="#1f1fff" stroke-width="1.1" />
<line x1="377.40" y1="275.71" x2="377.40" y2="278.34" stroke="#1f1fff" stroke-width="1.1" />
<line x1="374.90" y1="275.71" x2="379.90" y2="275.71" stroke="#1f1fff" stroke-width="1.1" />
<line x1="374.90" y1="278.34" x2="379.90" y2="278.34" stroke="#1f1fff" stroke-width="1.1" />
<line x1="391.20" y1="274.40" x2="391.20" y2="277.03" stroke="#1f1fff" stroke-width="1.1" />
<line x1="388.70" y1="274.40" x2="393.70" y2="274.40" stroke="#1f1fff" stroke-width="1.1" />
<line x1="388.70" y1="277.03" x2="393.70" y2="277.03" stroke="#1f1fff" stroke-width="1.1" />
<line x1="405.00" y1="275.71" x2="405.00" y2="278.34" stroke="#1f1fff" stroke-width="1.1" />
<line x1="402.50" y1="275.71" x2="407.50" y2="275.71" stroke="#1f1fff" stroke-width="1.1" />
<line x1="402.50" y1="278.34" x2="407.50" y2="278.34" stroke="#1f1fff" stroke-width="1.1" />
<line x1="418.80" y1="251.40" x2="418.80" y2="273.74" stroke="#1f1fff" stroke-width="1.1" />
<line x1="416.30" y1="251.40" x2="421.30" y2="251.40" stroke="#1f1fff" stroke-width="1.1" />
<line x1="416.30" y1="273.74" x2="421.30" y2="273.74" stroke="#1f1fff" stroke-width="1.1" />
<line x1="432.60" y1="259.95" x2="432.60" y2="277.69" stroke="#1f1fff" stroke-width="1.1" />
<line x1="430.10" y1="259.95" x2="435.10" y2="259.95" stroke="#1f1fff" stroke-width="1.1" />
<line x1="430.10" y1="277.69" x2="435.10" y2="277.69" stroke="#1f1fff" stroke-width="1.1" />
<line x1="446.40" y1="243.52" x2="446.40" y2="267.83" stroke="#1f1fff" stroke-width="1.1" />
<line x1="443.90" y1="243.52" x2="448.90" y2="243.52" stroke="#1f1fff" stroke-width="1.1" />
<line x1="443.90" y1="267.83" x2="448.90" y2="267.83" stroke="#1f1fff" stroke-width="1.1" />
<line x1="460.20" y1="247.46" x2="460.20" y2="251.40" stroke="#1f1fff" stroke-width="1.1" />
<line x1="457.70" y1="247.46" x2="462.70" y2="247.46" stroke="#1f1fff" stroke-width="1.1" />
<line x1="457.70" y1="251.40" x2="462.70" y2="251.40" stroke="#1f1fff" stroke-width="1.1" />
<line x1="474.20" y1="212.12" x2="474.20" y2="221.84" stroke="#1f1fff" stroke-width="1.1" />
<line x1="471.70" y1="212.12" x2="476.70" y2="212.12" stroke="#1f1fff" stroke-width="1.1" />
<line x1="471.70" y1="221.84" x2="476.70" y2="221.84" stroke="#1f1fff" stroke-width="1.1" />
<line x1="487.30" y1="213.96" x2="487.30" y2="219.21" stroke="#1f1fff" stroke-width="1.1" />
<line x1="484.80" y1="213.96" x2="489.80" y2="213.96" stroke="#1f1fff" stroke-width="1.1" />
<line x1="484.80" y1="219.21" x2="489.80" y2="219.21" stroke="#1f1fff" stroke-width="1.1" />
<line x1="499.50" y1="200.82" x2="499.50" y2="221.84" stroke="#1f1fff" stroke-width="1.1" />
<line x1="497.00" y1="200.82" x2="502.00" y2="200.82" stroke="#1f1fff" stroke-width="1.1" />
<line x1="497.00" y1="221.84" x2="502.00" y2="221.84" stroke="#1f1fff" stroke-width="1.1" />
<line x1="515.40" y1="188.99" x2="515.40" y2="214.61" stroke="#1f1fff" stroke-width="1.1" />
<line x1="512.90" y1="188.99" x2="517.90" y2="188.99" stroke="#1f1fff" stroke-width="1.1" />
<line x1="512.90" y1="214.61" x2="517.90" y2="214.61" stroke="#1f1fff" stroke-width="1.1" />
<line x1="529.10" y1="196.87" x2="529.10" y2="225.12" stroke="#1f1fff" stroke-width="1.1" />
<line x1="526.60" y1="196.87" x2="531.60" y2="196.87" stroke="#1f1fff" stroke-width="1.1" />
<line x1="526.60" y1="225.12" x2="531.60" y2="225.12" stroke="#1f1fff" stroke-width="1.1" />
<line x1="535.00" y1="222.50" x2="535.00" y2="227.10" stroke="#1f1fff" stroke-width="1.1" />
<line x1="532.50" y1="222.50" x2="537.50" y2="222.50" stroke="#1f1fff" stroke-width="1.1" />
<line x1="532.50" y1="227.10" x2="537.50" y2="227.10" stroke="#1f1fff" stroke-width="1.1" />
<polyline points="363.61,274.36 364.60,274.36 365.58,274.36 366.57,274.36 367.55,274.35 368.54,274.35 369.52,274.35 370.51,274.34 371.49,274.34 372.48,274.33 373.46,274.33 374.45,274.32 375.44,274.32 376.42,274.31 377.41,274.31 378.39,274.30 379.38,274.29 380.36,274.29 381.35,274.28 382.33,274.27 383.32,274.26 384.31,274.25 385.29,274.24 386.28,274.23 387.26,274.22 388.25,274.20 389.23,274.19 390.22,274.17 391.20,274.16 392.19,274.14 393.17,274.12 394.16,274.10 395.15,274.08 396.13,274.06 397.12,274.03 398.10,274.01 399.09,273.98 400.07,273.95 401.06,273.92 402.04,273.88 403.03,273.85 404.02,273.81 405.00,273.76 405.99,273.72 406.97,273.67 407.96,273.62 408.94,273.56 409.93,273.51 410.91,273.44 411.90,273.37 412.88,273.30 413.87,273.23 414.86,273.14 415.84,273.06 416.83,272.96 417.81,272.86 418.80,272.75 419.78,272.64 420.77,272.52 421.75,272.39 422.74,272.25 423.73,272.10 424.71,271.94 425.70,271.77 426.68,271.59 427.67,271.40 428.65,271.19 429.64,270.98 430.62,270.75 431.61,270.50 432.59,270.24 433.58,269.96 434.57,269.67 435.55,269.35 436.54,269.02 437.52,268.67 438.51,268.30 439.49,267.91 440.48,267.49 441.46,267.05 442.45,266.59 443.44,266.10 444.42,265.59 445.41,265.05 446.39,264.48 447.38,263.88 448.36,263.26 449.35,262.61 450.33,261.92 451.32,261.21 452.30,260.47 453.29,259.69 454.28,258.89 455.26,258.06 456.25,257.19 457.23,256.30 458.22,255.38 459.20,254.44 460.19,253.46 461.17,252.47 462.16,251.44 463.15,250.40 464.13,249.34 465.12,248.26 466.10,247.17 467.09,246.06 468.07,244.94 469.06,243.82 470.04,242.68 471.03,241.55 472.01,240.42 473.00,239.28 473.99,238.16 474.97,237.04 475.96,235.93 476.94,234.84 477.93,233.76 478.91,232.70 479.90,231.66 480.88,230.63 481.87,229.64 482.86,228.66 483.84,227.72 484.83,226.80 485.81,225.91 486.80,225.04 487.78,224.21 488.77,223.41 489.75,222.63 490.74,221.89 491.72,221.18 492.71,220.49 493.70,219.84 494.68,219.22 495.67,218.62 496.65,218.05 497.64,217.51 498.62,217.00 499.61,216.51 500.59,216.05 501.58,215.61 502.57,215.19 503.55,214.80 504.54,214.43 505.52,214.08 506.51,213.75 507.49,213.43 508.48,213.14 509.46,212.86 510.45,212.60 511.43,212.35 512.42,212.12 513.41,211.91 514.39,211.70 515.38,211.51 516.36,211.33 517.35,211.16 518.33,211.00 519.32,210.85 520.30,210.71 521.29,210.58 522.28,210.46 523.26,210.35 524.25,210.24 525.23,210.14 526.22,210.04 527.20,209.96 528.19,209.87 529.17,209.80 530.16,209.73 531.14,209.66 532.13,209.59 533.12,209.54 534.10,209.48 535.09,209.43" fill="none" stroke="#20c020" stroke-width="1.3"/>
<polyline points="363.61,274.37 364.60,274.37 365.58,274.36 366.57,274.36 367.55,274.36 368.54,274.36 369.52,274.35 370.51,274.35 371.49,274.34 372.48,274.34 373.46,274.34 374.45,274.33 375.44,274.33 376.42,274.32 377.41,274.32 378.39,274.31 379.38,274.30 380.36,274.30 381.35,274.29 382.33,274.28 383.32,274.27 384.31,274.26 385.29,274.25 386.28,274.24 387.26,274.23 388.25,274.21 389.23,274.20 390.22,274.19 391.20,274.17 392.19,274.15 393.17,274.14 394.16,274.12 395.15,274.09 396.13,274.07 397.12,274.05 398.10,274.02 399.09,273.99 400.07,273.97 401.06,273.93 402.04,273.90 403.03,273.86 404.02,273.82 405.00,273.78 405.99,273.73 406.97,273.69 407.96,273.63 408.94,273.58 409.93,273.52 410.91,273.45 411.90,273.38 412.88,273.31 413.87,273.23 414.86,273.15 415.84,273.06 416.83,272.96 417.81,272.85 418.80,272.74 419.78,272.62 420.77,272.50 421.75,272.36 422.74,272.21 423.73,272.06 424.71,271.89 425.70,271.71 426.68,271.52 427.67,271.32 428.65,271.10 429.64,270.87 430.62,270.63 431.61,270.37 432.59,270.09 433.58,269.79 434.57,269.47 435.55,269.14 436.54,268.78 437.52,268.40 438.51,268.00 439.49,267.58 440.48,267.13 441.46,266.66 442.45,266.16 443.44,265.63 444.42,265.07 445.41,264.48 446.39,263.87 447.38,263.22 448.36,262.54 449.35,261.83 450.33,261.09 451.32,260.32 452.30,259.51 453.29,258.68 454.28,257.81 455.26,256.91 456.25,255.97 457.23,255.01 458.22,254.02 459.20,253.01 460.19,251.96 461.17,250.90 462.16,249.81 463.15,248.70 464.13,247.58 465.12,246.44 466.10,245.29 467.09,244.12 468.07,242.96 469.06,241.78 470.04,240.61 471.03,239.44 472.01,238.28 473.00,237.12 473.99,235.98 474.97,234.85 475.96,233.73 476.94,232.63 477.93,231.56 478.91,230.51 479.90,229.48 480.88,228.48 481.87,227.51 482.86,226.56 483.84,225.65 484.83,224.77 485.81,223.92 486.80,223.10 487.78,222.31 488.77,221.56 489.75,220.84 490.74,220.15 491.72,219.49 492.71,218.86 493.70,218.26 494.68,217.69 495.67,217.15 496.65,216.64 497.64,216.16 498.62,215.70 499.61,215.26 500.59,214.85 501.58,214.47 502.57,214.10 503.55,213.76 504.54,213.43 505.52,213.13 506.51,212.84 507.49,212.58 508.48,212.32 509.46,212.09 510.45,211.86 511.43,211.66 512.42,211.46 513.41,211.28 514.39,211.11 515.38,210.95 516.36,210.80 517.35,210.66 518.33,210.53 519.32,210.40 520.30,210.29 521.29,210.18 522.28,210.08 523.26,209.99 524.25,209.90 525.23,209.82 526.22,209.74 527.20,209.67 528.19,209.61 529.17,209.55 530.16,209.49 531.14,209.43 532.13,209.38 533.12,209.34 534.10,209.29 535.09,209.25" fill="none" stroke="#b030e8" stroke-width="1.3"/>
<polyline points="363.61,274.27 364.60,274.26 365.58,274.25 366.57,274.24 367.55,274.23 368.54,274.22 369.52,274.21 370.51,274.20 371.49,274.19 372.48,274.17 373.46,274.16 374.45,274.14 375.44,274.12 376.42,274.11 377.41,274.09 378.39,274.07 379.38,274.05 380.36,274.02 381.35,274.00 382.33,273.97 383.32,273.94 384.31,273.91 385.29,273.88 386.28,273.85 387.26,273.81 388.25,273.78 389.23,273.74 390.22,273.69 391.20,273.65 392.19,273.60 393.17,273.55 394.16,273.49 395.15,273.43 396.13,273.37 397.12,273.31 398.10,273.24 399.09,273.16 400.07,273.08 401.06,273.00 402.04,272.91 403.03,272.81 404.02,272.71 405.00,272.60 405.99,272.49 406.97,272.37 407.96,272.24 408.94,272.10 409.93,271.96 410.91,271.81 411.90,271.64 412.88,271.47 413.87,271.29 414.86,271.10 415.84,270.89 416.83,270.67 417.81,270.45 418.80,270.20 419.78,269.95 420.77,269.68 421.75,269.39 422.74,269.09 423.73,268.77 424.71,268.44 425.70,268.09 426.68,267.72 427.67,267.33 428.65,266.92 429.64,266.49 430.62,266.04 431.61,265.56 432.59,265.07 433.58,264.55 434.57,264.01 435.55,263.44 436.54,262.85 437.52,262.23 438.51,261.59 439.49,260.93 440.48,260.24 441.46,259.52 442.45,258.78 443.44,258.01 444.42,257.22 445.41,256.41 446.39,255.57 447.38,254.71 448.36,253.82 449.35,252.92 450.33,251.99 451.32,251.05 452.30,250.09 453.29,249.11 454.28,248.12 455.26,247.11 456.25,246.10 457.23,245.07 458.22,244.04 459.20,243.01 460.19,241.97 461.17,240.93 462.16,239.89 463.15,238.85 464.13,237.82 465.12,236.80 466.10,235.79 467.09,234.78 468.07,233.79 469.06,232.82 470.04,231.86 471.03,230.92 472.01,230.00 473.00,229.10 473.99,228.22 474.97,227.36 475.96,226.53 476.94,225.72 477.93,224.93 478.91,224.17 479.90,223.43 480.88,222.72 481.87,222.04 482.86,221.38 483.84,220.74 484.83,220.13 485.81,219.54 486.80,218.98 487.78,218.45 488.77,217.93 489.75,217.44 490.74,216.97 491.72,216.53 492.71,216.10 493.70,215.69 494.68,215.31 495.67,214.94 496.65,214.59 497.64,214.26 498.62,213.95 499.61,213.65 500.59,213.37 501.58,213.10 502.57,212.85 503.55,212.61 504.54,212.38 505.52,212.17 506.51,211.97 507.49,211.77 508.48,211.59 509.46,211.42 510.45,211.26 511.43,211.11 512.42,210.97 513.41,210.83 514.39,210.71 515.38,210.59 516.36,210.47 517.35,210.37 518.33,210.27 519.32,210.17 520.30,210.09 521.29,210.00 522.28,209.92 523.26,209.85 524.25,209.78 525.23,209.72 526.22,209.65 527.20,209.60 528.19,209.54 529.17,209.49 530.16,209.44 531.14,209.40 532.13,209.36 533.12,209.32 534.10,209.28 535.09,209.24" fill="none" stroke="#ff2020" stroke-width="1.3"/>
<polyline points="363.61,274.39 364.60,274.38 365.58,274.38 366.57,274.38 367.55,274.38 368.54,274.38 369.52,274.38 370.51,274.37 371.49,274.37 372.48,274.37 373.46,274.37 374.45,274.36 375.44,274.36 376.42,274.36 377.41,274.35 378.39,274.35 379.38,274.34 380.36,274.34 381.35,274.33 382.33,274.33 383.32,274.32 384.31,274.31 385.29,274.31 386.28,274.30 387.26,274.29 388.25,274.28 389.23,274.27 390.22,274.26 391.20,274.25 392.19,274.23 393.17,274.22 394.16,274.20 395.15,274.18 396.13,274.16 397.12,274.14 398.10,274.12 399.09,274.10 400.07,274.07 401.06,274.04 402.04,274.01 403.03,273.98 404.02,273.94 405.00,273.90 405.99,273.85 406.97,273.81 407.96,273.75 408.94,273.70 409.93,273.64 410.91,273.57 411.90,273.50 412.88,273.42 413.87,273.33 414.86,273.24 415.84,273.14 416.83,273.03 417.81,272.92 418.80,272.79 419.78,272.65 420.77,272.50 421.75,272.34 422.74,272.16 423.73,271.97 424.71,271.76 425.70,271.54 426.68,271.30 427.67,271.04 428.65,270.76 429.64,270.46 430.62,270.13 431.61,269.78 432.59,269.41 433.58,269.00 434.57,268.57 435.55,268.10 436.54,267.60 437.52,267.07 438.51,266.50 439.49,265.89 440.48,265.25 441.46,264.56 442.45,263.83 443.44,263.06 444.42,262.24 445.41,261.38 446.39,260.48 447.38,259.52 448.36,258.53 449.35,257.49 450.33,256.40 451.32,255.28 452.30,254.11 453.29,252.90 454.28,251.66 455.26,250.39 456.25,249.09 457.23,247.76 458.22,246.41 459.20,245.04 460.19,243.66 461.17,242.27 462.16,240.88 463.15,239.50 464.13,238.12 465.12,236.75 466.10,235.40 467.09,234.07 468.07,232.76 469.06,231.49 470.04,230.24 471.03,229.04 472.01,227.87 473.00,226.74 473.99,225.65 474.97,224.61 475.96,223.61 476.94,222.66 477.93,221.75 478.91,220.89 479.90,220.07 480.88,219.30 481.87,218.57 482.86,217.88 483.84,217.23 484.83,216.62 485.81,216.05 486.80,215.52 487.78,215.02 488.77,214.55 489.75,214.11 490.74,213.71 491.72,213.33 492.71,212.98 493.70,212.65 494.68,212.35 495.67,212.07 496.65,211.81 497.64,211.57 498.62,211.34 499.61,211.14 500.59,210.95 501.58,210.77 502.57,210.61 503.55,210.46 504.54,210.32 505.52,210.19 506.51,210.07 507.49,209.96 508.48,209.86 509.46,209.77 510.45,209.68 511.43,209.60 512.42,209.53 513.41,209.47 514.39,209.40 515.38,209.35 516.36,209.30 517.35,209.25 518.33,209.20 519.32,209.16 520.30,209.13 521.29,209.09 522.28,209.06 523.26,209.03 524.25,209.00 525.23,208.98 526.22,208.96 527.20,208.94 528.19,208.92 529.17,208.90 530.16,208.88 531.14,208.87 532.13,208.85 533.12,208.84 534.10,208.83 535.09,208.82" fill="none" stroke="#1f1fff" stroke-width="1.3"/>
<polygon points="363.60,286.05 366.80,291.81 360.40,291.81" fill="#20c020"/>
<polygon points="377.40,279.16 380.60,284.92 374.20,284.92" fill="#20c020"/>
<polygon points="391.20,286.32 394.40,292.08 388.00,292.08" fill="#20c020"/>
<polygon points="405.00,281.85 408.20,287.61 401.80,287.61" fill="#20c020"/>
<polygon points="418.80,282.11 422.00,287.87 415.60,287.87" fill="#20c020"/>
<polygon points="432.60,265.69 435.80,271.45 429.40,271.45" fill="#20c020"/>
<polygon points="446.40,263.45 449.60,269.21 443.20,269.21" fill="#20c020"/>
<polygon points="460.20,251.89 463.40,257.65 457.00,257.65" fill="#20c020"/>
<polygon points="474.20,220.35 477.40,226.11 471.00,226.11" fill="#20c020"/>
<polygon points="487.30,234.81 490.50,240.57 484.10,240.57" fill="#20c020"/>
<polygon points="499.50,215.10 502.70,220.86 496.30,220.86" fill="#20c020"/>
<polygon points="515.40,207.22 518.60,212.97 512.20,212.97" fill="#20c020"/>
<polygon points="529.10,215.76 532.30,221.52 525.90,221.52" fill="#20c020"/>
<polygon points="535.00,203.93 538.20,209.69 531.80,209.69" fill="#20c020"/>
<polygon points="363.60,286.27 366.80,280.51 360.40,280.51" fill="#b030e8"/>
<polygon points="377.40,287.05 380.60,281.29 374.20,281.29" fill="#b030e8"/>
<polygon points="391.20,284.43 394.40,278.67 388.00,278.67" fill="#b030e8"/>
<polygon points="405.00,285.08 408.20,279.32 401.80,279.32" fill="#b030e8"/>
<polygon points="418.80,284.43 422.00,278.67 415.60,278.67" fill="#b030e8"/>
<polygon points="432.60,271.29 435.80,265.53 429.40,265.53" fill="#b030e8"/>
<polygon points="446.40,259.46 449.60,253.70 443.20,253.70" fill="#b030e8"/>
<polygon points="460.20,268.00 463.40,262.24 457.00,262.24" fill="#b030e8"/>
<polygon points="474.20,232.52 477.40,226.76 471.00,226.76" fill="#b030e8"/>
<polygon points="487.30,216.75 490.50,210.99 484.10,210.99" fill="#b030e8"/>
<polygon points="499.50,234.49 502.70,228.73 496.30,228.73" fill="#b030e8"/>
<polygon points="515.40,219.38 518.60,213.62 512.20,213.62" fill="#b030e8"/>
<polygon points="529.10,196.39 532.30,190.63 525.90,190.63" fill="#b030e8"/>
<polygon points="535.00,206.90 538.20,201.14 531.80,201.14" fill="#b030e8"/>
<rect x="361.00" y="269.04" width="5.2" height="5.2" fill="#ff2020"/>
<rect x="374.80" y="274.10" width="5.2" height="5.2" fill="#ff2020"/>
<rect x="388.60" y="270.68" width="5.2" height="5.2" fill="#ff2020"/>
<rect x="402.40" y="269.43" width="5.2" height="5.2" fill="#ff2020"/>
<rect x="416.20" y="273.31" width="5.2" height="5.2" fill="#ff2020"/>
<rect x="430.00" y="259.32" width="5.2" height="5.2" fill="#ff2020"/>
<rect x="443.80" y="256.29" width="5.2" height="5.2" fill="#ff2020"/>
<rect x="457.60" y="246.83" width="5.2" height="5.2" fill="#ff2020"/>
<rect x="471.60" y="212.01" width="5.2" height="5.2" fill="#ff2020"/>
<rect x="484.70" y="215.56" width="5.2" height="5.2" fill="#ff2020"/>
<rect x="496.90" y="222.52" width="5.2" height="5.2" fill="#ff2020"/>
<rect x="512.80" y="210.30" width="5.2" height="5.2" fill="#ff2020"/>
<rect x="526.50" y="205.44" width="5.2" height="5.2" fill="#ff2020"/>
<rect x="532.40" y="215.95" width="5.2" height="5.2" fill="#ff2020"/>
<circle cx="363.60" cy="275.91" r="2.9" fill="#1f1fff"/>
<circle cx="377.40" cy="277.09" r="2.9" fill="#1f1fff"/>
<circle cx="391.20" cy="275.58" r="2.9" fill="#1f1fff"/>
<circle cx="405.00" cy="277.09" r="2.9" fill="#1f1fff"/>
<circle cx="418.80" cy="262.57" r="2.9" fill="#1f1fff"/>
<circle cx="432.60" cy="268.49" r="2.9" fill="#1f1fff"/>
<circle cx="446.40" cy="255.35" r="2.9" fill="#1f1fff"/>
<circle cx="460.20" cy="249.43" r="2.9" fill="#1f1fff"/>
<circle cx="474.20" cy="217.44" r="2.9" fill="#1f1fff"/>
<circle cx="487.30" cy="216.58" r="2.9" fill="#1f1fff"/>
<circle cx="499.50" cy="211.33" r="2.9" fill="#1f1fff"/>
<circle cx="515.40" cy="201.74" r="2.9" fill="#1f1fff"/>
<circle cx="529.10" cy="210.21" r="2.9" fill="#1f1fff"/>
<circle cx="535.00" cy="224.73" r="2.9" fill="#1f1fff"/>
<line x1="351.00" y1="184.50" x2="365.60" y2="184.50" stroke="#1f1fff" stroke-width="1.3" />
<circle cx="358.30" cy="184.50" r="3.0" fill="#1f1fff"/>
<text x="372.60" y="188.10" font-size="10.3" font-weight="normal" text-anchor="start" fill="#000" >week 1</text>
<line x1="351.00" y1="202.70" x2="365.60" y2="202.70" stroke="#ff2020" stroke-width="1.3" />
<rect x="355.50" y="199.90" width="5.6" height="5.6" fill="#ff2020"/>
<text x="372.60" y="206.30" font-size="10.3" font-weight="normal" text-anchor="start" fill="#000" >week 2</text>
<line x1="351.00" y1="220.70" x2="365.60" y2="220.70" stroke="#20c020" stroke-width="1.3" />
<polygon points="358.30,217.03 361.70,223.15 354.90,223.15" fill="#20c020"/>
<text x="372.60" y="224.30" font-size="10.3" font-weight="normal" text-anchor="start" fill="#000" >week 3</text>
<line x1="351.00" y1="238.70" x2="365.60" y2="238.70" stroke="#b030e8" stroke-width="1.3" />
<polygon points="358.30,242.37 361.70,236.25 354.90,236.25" fill="#b030e8"/>
<text x="372.60" y="242.30" font-size="10.3" font-weight="normal" text-anchor="start" fill="#000" >week 4</text>
</g></svg>
</body></html>
